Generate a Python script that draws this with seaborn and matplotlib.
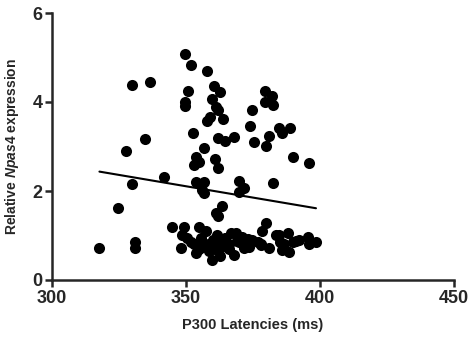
import matplotlib
matplotlib.use("Agg")
import matplotlib.pyplot as plt
import seaborn as sns
import numpy as np

latency = [
    349.6, 351.7, 357.7, 329.8, 336.6, 360.6, 362.8, 350.7, 349.7, 349.7,
    359.6, 361.1, 362.1, 359.0, 358.0, 363.7, 374.8, 373.7, 334.7, 352.7,
    361.9, 364.5, 367.8, 375.5, 327.7, 356.7, 379.5, 382.0, 379.5, 382.6,
    384.8, 388.8, 386.0, 380.8, 379.8, 353.6, 353.0, 354.9, 360.8, 362.1,
    341.8, 329.9, 353.6, 356.7, 356.1, 356.7, 369.8, 371.7, 369.8, 324.7,
    363.6, 361.1, 362.1, 389.8, 395.8, 382.6,
    317.7, 330.9, 330.9, 344.9, 349.3, 348.6, 348.0, 354.9, 357.4, 353.0,
    353.6, 358.6, 361.7, 359.8, 361.7, 363.6, 366.7, 368.6, 368.0, 369.8,
    371.0, 373.6, 374.8, 376.7, 377.9, 379.8, 378.5, 381.0, 383.5, 384.8,
    387.9, 386.6, 386.0, 388.5, 389.8, 392.2, 395.4, 398.5, 396.0, 365.4,
    371.7, 356.1, 364.5, 360.0, 366.0, 362.5, 355.5, 350.5,
    352.0, 355.0, 357.0, 358.5, 360.5, 362.0, 363.0, 364.5, 366.0, 369.0,
    373.0, 378.0, 385.0, 391.0,
]
npas4 = [
    5.07, 4.83, 4.70, 4.39, 4.46, 4.36, 4.23, 4.25, 4.01, 3.91,
    4.07, 3.89, 3.82, 3.67, 3.58, 3.62, 3.81, 3.47, 3.16, 3.30,
    3.18, 3.12, 3.22, 3.09, 2.91, 2.97, 4.25, 4.13, 3.99, 3.93,
    3.41, 3.42, 3.30, 3.24, 3.01, 2.77, 2.58, 2.66, 2.73, 2.51,
    2.31, 2.15, 2.21, 2.21, 2.02, 1.95, 2.22, 2.06, 1.98, 1.62,
    1.66, 1.50, 1.44, 2.76, 2.62, 2.19,
    0.73, 0.86, 0.71, 1.18, 1.20, 1.01, 0.71, 1.20, 1.11, 0.82,
    0.60, 0.82, 1.01, 0.45, 0.67, 0.82, 1.05, 1.05, 0.56, 0.86,
    0.97, 0.75, 0.90, 0.86, 0.82, 1.29, 1.09, 0.71, 1.01, 1.01,
    1.05, 0.82, 0.67, 0.64, 0.86, 0.90, 0.97, 0.86, 0.82, 0.82,
    0.71, 0.75, 0.95, 0.90, 0.70, 0.55, 0.95, 0.95,
    0.85, 0.70, 0.80, 0.65, 0.90, 0.80, 0.75, 0.85, 0.80, 0.88,
    0.92, 0.78, 0.85, 0.88,
]
x_ticks = [300, 350, 400, 450]
y_ticks = [0, 2, 4, 6]

sns.set_style("ticks")
plt.rcParams['font.family'] = ['Liberation Sans', 'DejaVu Sans']
plt.rcParams['mathtext.fontset'] = 'custom'
plt.rcParams['mathtext.it'] = 'Liberation Sans:bold:italic'
plt.rcParams['mathtext.rm'] = 'Liberation Sans:bold'

fig = plt.figure(figsize=(4.74, 3.42), dpi=100)
ax = fig.add_axes([52/474, 1 - 280/342, (454 - 52)/474, (280 - 13)/342])

sns.regplot(x=latency, y=npas4, ax=ax, ci=None, color='black',
            scatter_kws=dict(s=64, linewidths=0, alpha=1),
            line_kws=dict(linewidth=1.5))

ax.set_xlim(300, 450)
ax.set_ylim(0, 6)
ax.set_xticks(x_ticks)
ax.set_yticks(y_ticks)
ax.set_xticklabels([str(t) for t in x_ticks], fontsize=13, fontweight='bold')
ax.set_yticklabels([str(t) for t in y_ticks], fontsize=13, fontweight='bold')
ax.tick_params(direction='out', length=5, width=1.8, pad=2)
for s in ['left', 'bottom']:
    ax.spines[s].set_linewidth(1.8)
sns.despine(ax=ax)
ax.set_xlabel('P300 Latencies (ms)', fontsize=10.5, fontweight='bold', labelpad=8)
ax.set_ylabel(r'Relative $\mathit{Npas4}$ expression', fontsize=10,
              fontweight='bold', labelpad=8)

fig.savefig('out.png', dpi=100)
